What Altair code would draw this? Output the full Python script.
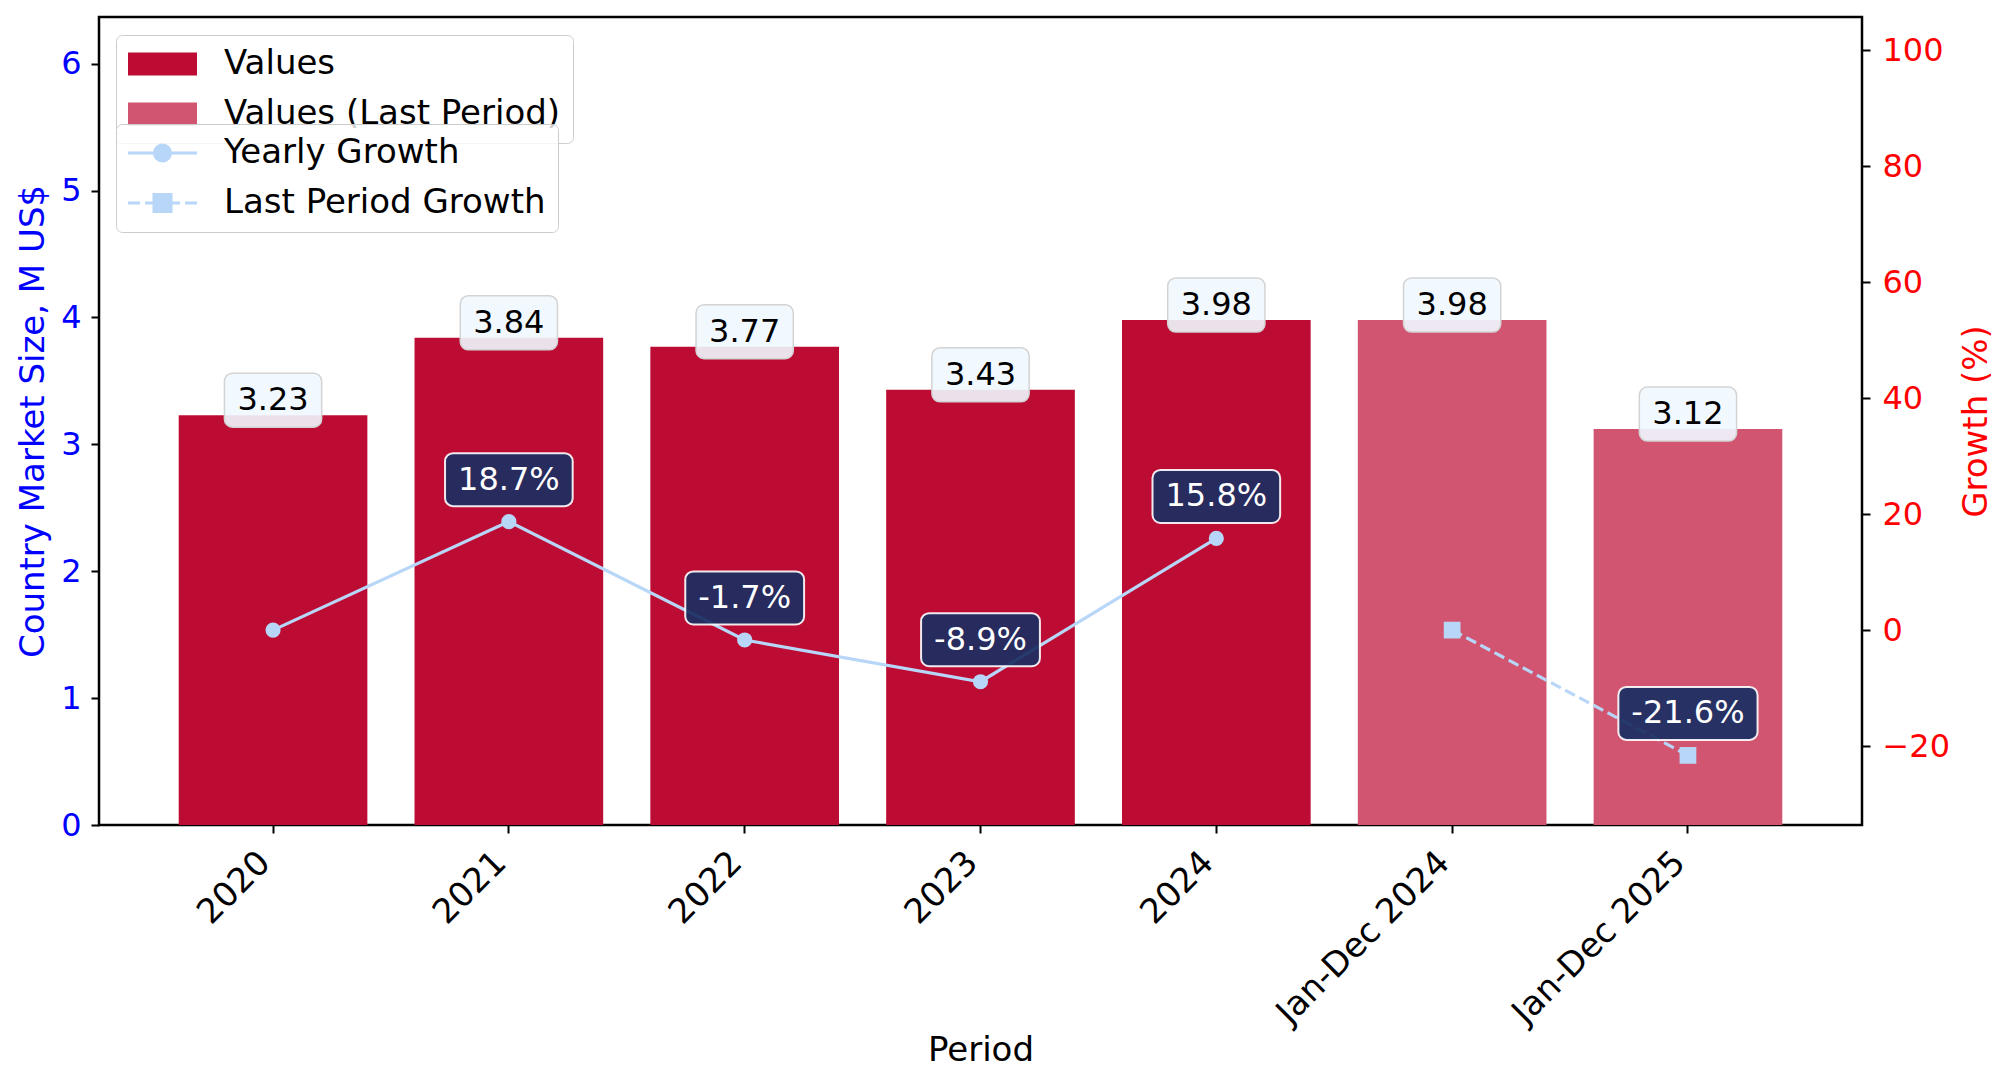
import altair as alt
import pandas as pd

# ---------------- data ----------------
periods = ["2020", "2021", "2022", "2023", "2024", "Jan-Dec 2024", "Jan-Dec 2025"]
values = [3.23, 3.84, 3.77, 3.43, 3.98, 3.98, 3.12]
bar_kind = ["Values", "Values", "Values", "Values", "Values",
            "Values (Last Period)", "Values (Last Period)"]

yearly_periods = ["2020", "2021", "2022", "2023", "2024"]
yearly_growth = [0.0, 18.7, -1.7, -8.9, 15.8]
last_periods = ["Jan-Dec 2024", "Jan-Dec 2025"]
last_growth = [0.0, -21.6]

left_ticks = [0, 1, 2, 3, 4, 5, 6]
right_ticks = [-20, 0, 20, 40, 60, 80, 100]
bar_series = ["Values", "Values (Last Period)"]
growth_series = ["Yearly Growth", "Last Period Growth"]

# ---------------- style ----------------
FONT = "DejaVu Sans"
BAR = "#BD0C33"
BAR_LAST = "#D15570"
LINE = "#B8D6F8"
NAVY = "#1B2E62"
BOX_LIGHT = "#F0F8FF"
W, H = 1763, 808
LBL = 32
TTL = 34
LEG = 34
XLBL = 34

ADV = {"0": .636, "1": .636, "2": .636, "3": .636, "4": .636, "5": .636,
       "6": .636, "7": .636, "8": .636, "9": .636, ".": .318, "%": .950, "-": .361}


def text_w(s, fs):
    return sum(ADV.get(c, .6) for c in s) * fs


def n(v):
    return f"{round(v, 4)}"


def rrect(w, h, r, unit):
    a, b, r = w / 2 / unit, h / 2 / unit, r / unit
    return (f"M{n(-a + r)},{n(-b)}H{n(a - r)}A{n(r)},{n(r)},0,0,1,{n(a)},{n(-b + r)}"
            f"V{n(b - r)}A{n(r)},{n(r)},0,0,1,{n(a - r)},{n(b)}"
            f"H{n(-a + r)}A{n(r)},{n(r)},0,0,1,{n(-a)},{n(b - r)}"
            f"V{n(-b + r)}A{n(r)},{n(r)},0,0,1,{n(-a + r)},{n(-b)}Z")


BOX_SIZE = 10000  # custom path unit = sqrt(size)/2 = 50 px
UNIT = 50

value_labels = [f"{v:.2f}" for v in values]
value_box = rrect(max(text_w(s, LBL) for s in value_labels) + 26, 54, 8, UNIT)

bars_df = pd.DataFrame({"period": periods, "value": values, "kind": bar_kind,
                        "label": value_labels})

yearly_df = pd.DataFrame({"period": yearly_periods, "growth": yearly_growth})
last_df = pd.DataFrame({"period": last_periods, "growth": last_growth})

g_periods = yearly_periods + last_periods
g_vals = yearly_growth + last_growth
g_labels = [f"{g:.1f}%" for g in g_vals]
g_boxes = [rrect(text_w(s, LBL) + 26, 53, 8, UNIT) for s in g_labels]
glabel_df = pd.DataFrame({"period": g_periods, "growth": g_vals,
                          "label": g_labels, "box": g_boxes})

legend_df = pd.DataFrame({"series": growth_series})

# legend symbol paths (unit 10 px, symbol centre at LEG/2 px)
def lx(px):
    return n((px - LEG / 2) / 10)


def ly(px):
    return n(px / 10)


sym_rect = f"M{lx(0)},{ly(-11.5)}H{lx(69)}V{ly(11.5)}H{lx(0)}Z"
sym_yearly = (f"M{lx(0)},0H{lx(69)}"
              f"M{lx(42.5)},0A0.8,0.8,0,1,1,{lx(26.5)},0A0.8,0.8,0,1,1,{lx(42.5)},0Z")
sym_last = (f"M{lx(0)},0H{lx(12)}M{lx(17)},0H{lx(26.5)}M{lx(42.5)},0H{lx(52)}M{lx(57)},0H{lx(69)}"
            f"M{lx(26)},{ly(-8.5)}H{lx(43)}V{ly(8.5)}H{lx(26)}Z")

legend_common = dict(
    title=None, orient="none", legendX=17, symbolSize=400,
    labelFont=FONT, labelFontSize=LEG, labelColor="black", labelOffset=96 - LEG,
    rowPadding=50 - LEG, padding=12, strokeColor="#CCCCCC",
    fillColor="rgba(255,255,255,0.8)", cornerRadius=6, labelLimit=1000,
    symbolOpacity=1,
)

# ---------------- encodings ----------------
X = alt.X("period:N", sort=periods,
          scale=alt.Scale(domain=periods, paddingInner=0.2, paddingOuter=0.338),
          axis=alt.Axis(title="Period", labelAngle=-45, labelAlign="right",
                        labelBaseline="top", labelOffset=-20, labelPadding=12,
                        labelFontSize=XLBL, labelLimit=1000, titlePadding=8,
                        domain=False))

Yv = alt.Y("value:Q", scale=alt.Scale(domain=[0, 6.368], nice=False, zero=False),
           axis=alt.Axis(title="Country Market Size, M US$", values=left_ticks,
                         format="d", labelColor="blue", titleColor="blue",
                         labelPadding=10, titlePadding=10, domain=False))

Yg = alt.Y("growth:Q", scale=alt.Scale(domain=[-33.6, 105.7], nice=False, zero=False),
           axis=alt.Axis(orient="right", title="Growth (%)", values=right_ticks,
                         labelColor="red", titleColor="red",
                         labelExpr="replace(datum.label, '-', '\u2212')",
                         titleAngle=-90, titleBaseline="top", titlePadding=10,
                         labelPadding=12, domain=False))

# ---------------- bars group ----------------
bars = alt.Chart(bars_df).mark_bar().encode(
    x=X, y=Yv,
    fill=alt.Fill("kind:N", scale=alt.Scale(domain=bar_series, range=[BAR, BAR_LAST]),
                  legend=alt.Legend(legendY=18, symbolType=sym_rect,
                                    symbolStrokeWidth=0, **legend_common)),
)

v_boxes = alt.Chart(bars_df).mark_point(
    shape=value_box, size=BOX_SIZE, filled=True, fill=BOX_LIGHT, fillOpacity=0.9,
    stroke="#D3D3D3", strokeWidth=1.5, opacity=1, yOffset=-15,
).encode(x=X, y=Yv)

v_text = alt.Chart(bars_df).mark_text(
    font=FONT, fontSize=LBL, color="black", dy=-15, baseline="middle", align="center",
).encode(x=X, y=Yv, text="label:N")

legend_only = alt.Chart(legend_df).transform_filter("false").mark_point(
    filled=True, fill=LINE, stroke=LINE, strokeWidth=3, opacity=1,
).encode(
    shape=alt.Shape("series:N",
                    scale=alt.Scale(domain=growth_series, range=[sym_yearly, sym_last]),
                    legend=alt.Legend(legendY=107, symbolStrokeWidth=3, **legend_common)),
)

bars_group = alt.layer(bars, v_boxes, v_text, legend_only)

# ---------------- growth group ----------------
yearly_line = alt.Chart(yearly_df).mark_line(color=LINE, strokeWidth=3.2).encode(x=X, y=Yg)
last_line = alt.Chart(last_df).mark_line(color=LINE, strokeWidth=3.2,
                                         strokeDash=[11, 5]).encode(x=X, y=Yg)
yearly_pts = alt.Chart(yearly_df).mark_point(
    shape="circle", size=230, filled=True, color=LINE, opacity=1).encode(x=X, y=Yg)
last_pts = alt.Chart(last_df).mark_point(
    shape="square", size=280, filled=True, color=LINE, opacity=1).encode(x=X, y=Yg)

g_box_layer = alt.Chart(glabel_df).transform_filter("datum.growth != 0").mark_point(
    size=BOX_SIZE, filled=True, fill=NAVY, fillOpacity=0.93, stroke="white",
    strokeOpacity=0.9, strokeWidth=2, opacity=1, yOffset=-42,
).encode(x=X, y=Yg, shape=alt.Shape("box:N", scale=None, legend=None))

g_text = alt.Chart(glabel_df).transform_filter("datum.growth != 0").mark_text(
    font=FONT, fontSize=LBL, color="white", dy=-42, baseline="middle", align="center",
).encode(x=X, y=Yg, text="label:N")

growth_group = alt.layer(yearly_line, last_line, yearly_pts, last_pts, g_box_layer, g_text)

chart = alt.layer(bars_group, growth_group).resolve_scale(
    y="independent", shape="independent"
).properties(
    width=W, height=H,
    autosize=alt.AutoSizeParams(type="none"),
    padding={"left": 91, "top": 9, "right": 140, "bottom": 255},
).configure_view(
    stroke="black", strokeWidth=2.5,
).configure_axis(
    labelFont=FONT, titleFont=FONT, labelFontSize=LBL, titleFontSize=TTL,
    titleFontWeight="normal", tickColor="black", tickWidth=2, tickSize=8,
    grid=False, labelColor="black", titleColor="black",
)

chart.save("out.html", embed_options={"renderer": "svg", "actions": False})
